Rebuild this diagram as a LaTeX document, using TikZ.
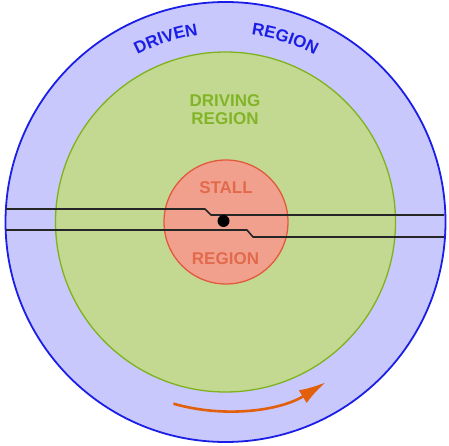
\documentclass[tikz,border=0pt]{standalone}
\usepackage{fontspec}
\setmainfont{Liberation Sans}
\usetikzlibrary{decorations.text,arrows.meta}
\definecolor{outerfill}{RGB}{200,200,252}
\definecolor{outerline}{RGB}{26,30,230}
\definecolor{greenfill}{RGB}{195,217,146}
\definecolor{greenline}{RGB}{128,178,30}
\definecolor{greentext}{RGB}{130,180,40}
\definecolor{redfill}{RGB}{242,160,142}
\definecolor{redline}{RGB}{226,90,60}
\definecolor{redtext}{RGB}{226,106,76}
\definecolor{arroworange}{RGB}{226,96,12}
\tikzset{
  lbl/.style={font=\bfseries\fontsize{17}{17}\selectfont, inner sep=0pt, anchor=base},
  shaftline/.style={draw=black!85, line width=1.6pt, line join=round}
}
\begin{document}
\begin{tikzpicture}[x=1pt,y=1pt]
\useasboundingbox (0,0) rectangle (449,445);
\coordinate (O) at (225.5,223);
% outer driven region
\fill[outerfill] (O) circle[radius=220];
\draw[outerline, line width=1.8pt] (O) circle[radius=220];
% driving region
\filldraw[fill=greenfill, draw=greenline, line width=1.3pt] (O) circle[radius=170];
% stall region
\filldraw[fill=redfill, draw=redline, line width=1.3pt] (226,223) circle[radius=62];
% shaft lines
\coordinate (ul) at (6,236);
\coordinate (ur) at (444,230);
\coordinate (ll) at (6,215);
\coordinate (lr) at (444,208);
\draw[shaftline] (ul) -- (205,236) -- (211,230) -- (ur);
\draw[shaftline] (ll) -- (247,215) -- (253,208) -- (lr);
% center dot
\fill[black] (223.5,224) circle[radius=6];
% labels
\node[lbl, text=greentext] (driving) at (225,338) {DRIVING};
\node[lbl, text=greentext] (drivingreg) at (225,320) {REGION};
\node[lbl, text=redtext] (stall) at (226,252) {STALL};
\node[lbl, text=redtext] (stallreg) at (225.5,181) {REGION};
% arc text
\path[decorate, decoration={text along path, text align=center,
  text color=outerline,
  text={|\bfseries\fontsize{17}{17}\selectfont|DRIVEN}}]
  (O) ++(130:189) arc[start angle=130, end angle=86, radius=189];
\path[decorate, decoration={text along path, text align=center,
  text color=outerline,
  text={|\bfseries\fontsize{17}{17}\selectfont|REGION}}]
  (O) ++(94:189) arc[start angle=94, end angle=50, radius=189];
% rotation arrow
\draw[arroworange, line width=2.6pt,
  -{Latex[length=27pt,width=15pt]}]
  (O) ++(254:189) arc[start angle=254, end angle=302, radius=189];
\end{tikzpicture}
\end{document}
